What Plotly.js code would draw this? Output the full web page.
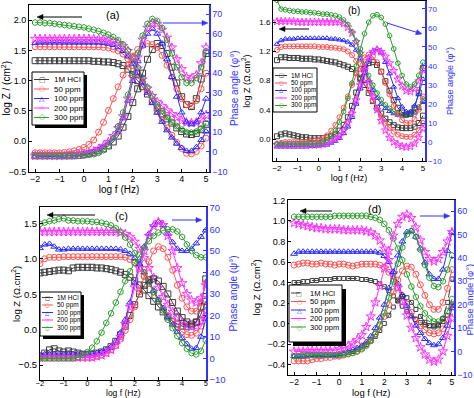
<!DOCTYPE html>
<html><head><meta charset="utf-8">
<script src="https://cdn.plot.ly/plotly-3.0.1.min.js"></script>
<style>html,body{margin:0;padding:0;background:#fff}#chart{width:474px;height:398px}</style>
</head><body><div id="chart"></div>
<script>
// ---------- data ----------
const logf = [-2.0,-1.8,-1.6,-1.4,-1.2,-1.0,-0.8,-0.6,-0.4,-0.2,0.0,0.2,0.4,0.6,0.8,1.0,1.2,1.4,1.6,1.8,2.0,2.2,2.4,2.6,2.8,3.0,3.2,3.4,3.6,3.8,4.0,4.2,4.4,4.6,4.8,5.0];
const series = ['1M HCl','50 ppm','100 ppm','200 ppm','300 ppm'];

// panel (a)
const logZ_a_HCl = [1.33,1.33,1.33,1.33,1.33,1.33,1.33,1.33,1.33,1.33,1.33,1.33, 1.32,1.32,1.31,1.31,1.30,1.28,1.25,1.19,1.10,1.00,0.90,0.78, 0.66,0.55,0.45,0.37,0.30,0.22,0.16,0.12,0.11,0.13,0.19,0.28];
const logZ_a_50 = [1.56,1.56,1.56,1.56,1.56,1.56,1.56,1.56,1.56,1.56,1.56,1.56, 1.56,1.56,1.55,1.54,1.52,1.49,1.44,1.36,1.25,1.12,0.98,0.82, 0.66,0.50,0.36,0.22,0.10,-0.02,-0.12,-0.20,-0.21,-0.17,-0.08,0.05];
const logZ_a_100 = [1.62,1.63,1.63,1.63,1.63,1.63,1.63,1.63,1.63,1.63,1.63,1.63, 1.63,1.63,1.62,1.61,1.59,1.55,1.49,1.40,1.28,1.13,0.97,0.80, 0.63,0.47,0.32,0.18,0.06,-0.04,-0.11,-0.16,-0.16,-0.10,0.02,0.16];
const logZ_a_200 = [1.69,1.69,1.69,1.69,1.69,1.69,1.69,1.69,1.69,1.69,1.69,1.69, 1.69,1.69,1.68,1.67,1.65,1.62,1.57,1.49,1.38,1.20,1.02,0.87, 0.75,0.65,0.58,0.51,0.45,0.39,0.34,0.31,0.30,0.31,0.35,0.43];
const logZ_a_300 = [1.96,1.96,1.95,1.95,1.94,1.93,1.92,1.91,1.90,1.89,1.88,1.86, 1.84,1.82,1.79,1.76,1.72,1.67,1.60,1.50,1.38,1.22,1.05,0.89, 0.74,0.61,0.50,0.40,0.32,0.25,0.19,0.15,0.14,0.16,0.21,0.30];
const phase_a_HCl = [-2,-2,-2,-2,-2,-2,-2,-2,-2,-1.8,-1.5,-1, -0.5,0.5,1.5,3,5,8,12.5,18,25,32,40,47, 52,55,54,50,43,35,28,24,23,27,37,50];
const phase_a_50 = [-0.5,-0.5,-0.5,-0.5,-0.5,-0.5,-0.3,0,0.5,1.2,2.2,3.8, 6,10,15,21,27,33,39,44,48.5,52,54,55, 54.5,53,49,44,38,32,27,24,23.5,26,32,40];
const phase_a_100 = [-2.5,-2.5,-2.5,-2.5,-2.5,-2.3,-2.2,-2,-1.8,-1.5,-1.2,-0.8, 0,1,2.5,4.5,7,11,17,26,36,46,54,60, 62.5,60,55,47,38,28,20,15,14,15,20,27];
const phase_a_200 = [-2,-2,-2,-2,-2,-2,-2,-1.8,-1.6,-1.3,-1,-0.5, 0.3,1.5,3,5,8,12,18,27,38,48,57,63, 65.5,65,62,58,53,47,42,38,37,39,45,53];
const phase_a_300 = [-2,-2,-2,-2,-2,-2,-2,-2,-2,-2,-1.8,-1.5, -1.2,-0.5,0.8,3,7,13,20,29,39,50,59,65, 67.5,66.5,63,57,50,43,38,35,35,37.5,43,51];

// panel (b)
const logZ_b_HCl = [1.08,1.12,1.12,1.11,1.11,1.11,1.10,1.10,1.10,1.09,1.09,1.08, 1.07,1.06,1.05,1.03,1.01,0.99,0.96,0.91,0.84,0.74,0.63,0.52, 0.43,0.35,0.28,0.23,0.19,0.16,0.15,0.15,0.15,0.17,0.22,0.32];
const logZ_b_50 = [1.22,1.26,1.27,1.27,1.27,1.27,1.27,1.27,1.27,1.27,1.26,1.26, 1.26,1.25,1.25,1.24,1.23,1.20,1.15,1.07,0.96,0.82,0.67,0.53, 0.41,0.31,0.22,0.15,0.10,0.06,0.04,0.03,0.03,0.06,0.12,0.22];
const logZ_b_100 = [1.30,1.35,1.37,1.37,1.37,1.38,1.38,1.38,1.38,1.38,1.38,1.38, 1.38,1.37,1.37,1.36,1.35,1.33,1.29,1.22,1.10,0.95,0.80,0.67, 0.56,0.48,0.42,0.38,0.35,0.33,0.32,0.32,0.33,0.36,0.42,0.52];
const logZ_b_200 = [1.61,1.61,1.61,1.61,1.61,1.60,1.60,1.60,1.60,1.60,1.60,1.60, 1.60,1.60,1.60,1.60,1.58,1.53,1.45,1.33,1.17,0.98,0.78,0.58, 0.40,0.25,0.12,0.02,-0.04,-0.08,-0.10,-0.11,-0.10,-0.06,0.02,0.14];
const logZ_b_300 = [1.90,1.78,1.77,1.76,1.75,1.75,1.74,1.74,1.73,1.73,1.72,1.71, 1.71,1.70,1.69,1.67,1.63,1.57,1.47,1.34,1.18,1.02,0.87,0.74, 0.63,0.54,0.47,0.42,0.38,0.35,0.33,0.33,0.34,0.37,0.44,0.55];
const phase_b_HCl = [3,4,4.5,4,3.5,3,2.5,2.5,2,2,2,2, 2.5,3,4,6,9,13,19,26,33,38.5,41.5,42, 40.5,37,32,27,22,18,15.5,14.5,15,18,26,39];
const phase_b_50 = [-1,-0.5,0,0,0,0,0,0,0.2,0.5,1,2, 3.5,6,9,13,18,24,30,36,41,44.5,46,45, 42,37,31,25,19,14.5,11.5,10,10,12,17,24];
const phase_b_100 = [-2.5,-2.5,-2.5,-2.5,-2.5,-2.5,-2.5,-2.5,-2.3,-2.2,-2,-1.8, -1.5,-0.5,0.5,2,4.5,8,13,20,28,36,43,47.5, 49,47,42,36,29,23,18.5,16,16,19,25,33];
const phase_b_200 = [-1.5,-1.5,-1.5,-1.5,-1.5,-1.5,-1.5,-1.5,-1.5,-1.5,-1.5,-1, -0.5,0.5,1.5,3,6,10,15,22,30,38,44,47.5, 48.5,47.5,45,41.5,37.5,33,29.5,27,26.5,28,32,38];
const phase_b_300 = [-1,-1,-1,-1,-1,-1,-1,-1,-1,-1,-1,0, 1,3,6,10.5,16,23,31,40,49,57,63,66.5, 67,65.5,62,56,49,41.5,35,30.5,29,30.5,35,42];

// panel (c)
const logZ_c_HCl = [0.80,0.81,0.82,0.83,0.84,0.84,0.83,0.87,0.88,0.88,0.88,0.88, 0.87,0.87,0.86,0.85,0.83,0.81,0.78,0.74,0.69,0.63,0.56,0.48, 0.40,0.32,0.25,0.18,0.12,0.08,0.05,0.04,0.05,0.10,0.22,0.40];
const logZ_c_50 = [0.93,1.00,1.02,1.02,1.02,1.03,1.03,1.03,1.03,1.03,1.03,1.03, 1.03,1.03,1.03,1.03,1.03,1.03,1.02,0.99,0.94,0.86,0.76,0.65, 0.53,0.41,0.30,0.20,0.11,0.03,-0.03,-0.07,-0.08,-0.05,0.05,0.20];
const logZ_c_100 = [1.15,1.20,1.21,1.17,1.13,1.13,1.14,1.14,1.14,1.14,1.14,1.14, 1.14,1.14,1.14,1.14,1.14,1.13,1.11,1.07,1.01,0.92,0.81,0.68, 0.55,0.42,0.30,0.18,0.07,-0.03,-0.12,-0.20,-0.27,-0.26,-0.10,0.15];
const logZ_c_200 = [1.38,1.38,1.38,1.38,1.38,1.38,1.38,1.38,1.38,1.38,1.38,1.38, 1.38,1.38,1.38,1.38,1.38,1.37,1.35,1.31,1.24,1.14,1.01,0.87, 0.73,0.59,0.46,0.35,0.25,0.17,0.10,0.06,0.04,0.05,0.12,0.25];
const logZ_c_300 = [1.49,1.51,1.53,1.54,1.56,1.57,1.54,1.54,1.53,1.53,1.53,1.52, 1.52,1.51,1.49,1.47,1.43,1.38,1.30,1.20,1.08,0.95,0.81,0.67, 0.53,0.40,0.27,0.14,0.02,-0.09,-0.19,-0.27,-0.33,-0.35,-0.30,-0.15];
const phase_c_HCl = [1,2.5,4,4.5,3.5,3,3.5,3,2.5,2,2,2, 2.5,3,4,5.5,8,11,15,20,25,30,34,36.5, 37,36,33.5,30,26,22,19,17,16,17,24,37];
const phase_c_50 = [0.5,0.5,0.5,0.5,0.5,0.5,0.5,0.5,0.5,0.5,0.5,0.5, 1,1.5,2.5,4,6,9,13,18,24,31,38,45, 50,52,51,47,41,34,28,24,22,22,26,35];
const phase_c_100 = [1.5,2,2,2,2,2,2,2,2,2,2,2, 2.5,3,4,5.5,8,12,18,26,35,44,52,58, 62,63.5,62,58,54,51,50,50,51,53.5,56.5,59.5];
const phase_c_200 = [0.5,0.5,0.5,0.5,0.5,0.5,0.5,0.5,0.5,0.5,0.5,0.5, 1,1.5,2.5,4,6.5,10,16,24,33,42,50,57, 61.5,63.5,62,57,50,42,35,30,27,26,28,34];
const phase_c_300 = [0,0,0,0,0,0,0,0,0.5,1.5,3,5, 8,12,16.5,21,26,31,36,40.5,44.5,48,51.5,54.5, 57,58.5,59.5,60,60,59,56.5,53,50,48,47,47];

// panel (d)
const logZ_d_HCl = [0.40,0.40,0.41,0.41,0.42,0.42,0.43,0.43,0.43,0.44,0.44,0.44, 0.44,0.44,0.44,0.43,0.43,0.42,0.41,0.39,0.36,0.32,0.27,0.22, 0.17,0.12,0.08,0.04,0.01,-0.01,-0.02,-0.02,-0.01,0.02,0.08,0.18];
const logZ_d_50 = [0.57,0.58,0.59,0.59,0.58,0.58,0.59,0.58,0.58,0.57,0.58,0.58, 0.57,0.56,0.57,0.58,0.58,0.58,0.58,0.57,0.55,0.50,0.43,0.35, 0.27,0.19,0.11,0.04,-0.02,-0.06,-0.09,-0.10,-0.09,-0.05,0.04,0.18];
const logZ_d_100 = [0.68,0.70,0.70,0.70,0.70,0.70,0.70,0.70,0.70,0.70,0.70,0.70, 0.70,0.70,0.70,0.70,0.70,0.70,0.70,0.69,0.66,0.60,0.50,0.39, 0.28,0.17,0.07,-0.02,-0.09,-0.15,-0.19,-0.21,-0.20,-0.14,-0.02,0.15];
const logZ_d_200 = [0.98,0.97,0.96,0.95,0.94,0.93,0.93,0.92,0.92,0.92,0.92,0.91, 0.91,0.91,0.91,0.91,0.90,0.89,0.86,0.81,0.73,0.62,0.49,0.35, 0.21,0.08,-0.04,-0.14,-0.23,-0.30,-0.35,-0.37,-0.35,-0.27,-0.12,0.05];
const logZ_d_300 = [1.04,1.04,1.04,1.04,1.04,1.04,1.04,1.04,1.04,1.05,1.05,1.05, 1.05,1.05,1.05,1.05,1.05,1.04,1.03,1.01,0.97,0.91,0.83,0.73, 0.62,0.48,0.36,0.26,0.17,0.10,0.05,0.02,0.02,0.05,0.12,0.24];
const phase_d_HCl = [-2,-2,-2,-1.5,-1.5,-1.5,-1.5,-1.5,-1.5,-1.5,-1.5,-1, -0.5,0,1,2,3,4.5,6.5,9,12,15.5,19,22, 23.5,23,21,18,15,12.5,11,10.5,11,14,21,31];
const phase_d_50 = [-4,-4,-4,-4,-3.5,-3,-3,-2.5,-2.5,-2,-2,-1.5, -1,-0.5,0.5,1.5,3,5,7.5,11,15,20,25.5,30.5, 34.5,36.5,36,33,28.5,24,20,18,18,21,27,35];
const phase_d_100 = [-2,-2,-2,-1.5,-1.5,-1.5,-1.5,-1.5,-1.5,-1.5,-1,-0.5, 0,0.8,1.5,2.5,4,6.5,10,14.5,20,27,34,41, 47,51,51.5,49,44,38,33,31,31,35,43,51];
const phase_d_200 = [0,0,0,0.3,0.3,0.3,0.3,0.3,0.3,0.5,1,1.5, 2.5,3.5,5,7,10.5,15,21,28,35.5,43,49.5,54.5, 57.5,58.5,57,53,47.5,42.5,39.5,38.5,39.5,42.5,47,51];
const phase_d_300 = [-2,-2,-1.5,-1.5,-1.5,-1.5,-1.5,-1.5,-1.5,-1.5,-1.5,-1.2, -1,-0.5,0,1,2.5,4.5,7.5,11.5,16.5,23,30,37.5, 44.5,50,51.5,49,43.5,37,31.5,28,27.5,30,35,41];

const panelLabels = ['(a)','(b)','(c)','(d)'];
const xTitle = 'log f (Hz)';
const leftTitles = ['log Z / (cm<sup>2</sup>)','log Z (Ω.cm<sup>2</sup>)','log Z (Ω.cm<sup>2</sup>)','log Z (Ω.cm<sup>2</sup>)'];
const rightTitles = ['Phase angle (φ°)','Phase angle (φ°)','Phase angle (ψ°)','Phase angle (φ°)'];

// ---------- styles ----------
const colors = ['#3c3c3c','#ff5252','#2b2bff','#ff33ff','#2f9e2f'];
const symbols = ['square-open','circle-open','triangle-up-open','star-open','hexagon-open'];
const glyphs = ['□','○','△','☆','○'];
const BLUE = '#3333ff';
const W = 474, H = 398;
const px = v => v / W, py = v => 1 - v / H;

// xtAnn / ltAnn / rtAnn: pixel positions of titles drawn as annotations (null = normal axis title)
const panels = [
  {z:[logZ_a_HCl,logZ_a_50,logZ_a_100,logZ_a_200,logZ_a_300], p:[phase_a_HCl,phase_a_50,phase_a_100,phase_a_200,phase_a_300],
   box:[29,209,5,171.5], xr:[-2.25,5.12], yl:[-0.5,2.25], ydt:0.5, yr:[-10,74.6], tf:9, xtf:9, xts:-1, ts:10, rts:10, ms:6, lst:4, rst:4,
   xtAnn:null, ltAnn:null, rtAnn:null,
   label:[112,15,11], arrows:[[37,17,82,17,'#000'],[208,23,163,23,BLUE]],
   leg:{box:[32,72,84,125], sh:3, rows:[79.5,89,98.5,108,117.5], l0:34, l1:49, g:41.5, t:52, fs:8}},
  {z:[logZ_b_HCl,logZ_b_50,logZ_b_100,logZ_b_200,logZ_b_300], p:[phase_b_HCl,phase_b_50,phase_b_100,phase_b_200,phase_b_300],
   box:[273,425,1,161], xr:[-2.19,5.10], yl:[-0.30,1.89], ydt:0.4, yr:[-10,74.2], tf:8, xtf:8, xts:-1, ts:9, rts:9, ms:5, lst:7, rst:5,
   xtAnn:null, ltAnn:null, rtAnn:null,
   label:[354,10,10], arrows:[[279,29,309,29,'#000'],[422,34,387,23,BLUE]],
   leg:{box:[273,68,317,112], sh:0, rows:[75.5,83,90.5,98,105.5], l0:275, l1:287, g:281, t:289, fs:6.5}},
  {z:[logZ_c_HCl,logZ_c_50,logZ_c_100,logZ_c_200,logZ_c_300], p:[phase_c_HCl,phase_c_50,phase_c_100,phase_c_200,phase_c_300],
   box:[40,206,207,380], xr:[-2.0,5.01], yl:[-0.71,1.73], ydt:0.5, yr:[-10,70.4], tf:9.5, xtf:7.5, xts:-4, ts:8.5, rts:10, ms:6, lst:2, rst:5,
   xtAnn:[123,393], ltAnn:[16,294], rtAnn:null,
   label:[121,216,11], arrows:[[47,215,95,215,'#000'],[202,220,172,220,BLUE]],
   leg:{box:[40,292,81,336], sh:3, rows:[297.5,305,312.5,320,327.5], l0:42, l1:53, g:47.5, t:55, fs:6.5}},
  {z:[logZ_d_HCl,logZ_d_50,logZ_d_100,logZ_d_200,logZ_d_300], p:[phase_d_HCl,phase_d_50,phase_d_100,phase_d_200,phase_d_300],
   box:[288,454,200,375], xr:[-2.27,5.09], yl:[-0.50,1.204], ydt:0.2, yr:[-10,64.7], tf:9, xtf:8.5, xts:-1, ts:9.5, rts:9.5, ms:6, lst:5, rst:0,
   xtAnn:[371,392.5], ltAnn:null, rtAnn:[468.5,300],
   label:[374,209,11], arrows:[[300,211,332,211,'#000'],[450,216,420,216,BLUE]],
   leg:{box:[289,285,342,342], sh:4, rows:[293,301.5,310,318.5,327], l0:291, l1:306, g:299, t:308, fs:7.5}}
];

const traces = [];
const layout = {
  width: W, height: H, margin:{l:0,r:0,t:0,b:0}, autosize:false,
  paper_bgcolor:'#fff', plot_bgcolor:'#fff', showlegend:false,
  font:{family:'Arial, "Liberation Sans", sans-serif', color:'#000'},
  shapes:[], annotations:[]
};

function arrowShapes(hx, hy, tx, ty, col) {
  const dx = hx - tx, dy = hy - ty, len = Math.hypot(dx, dy);
  const ux = dx / len, uy = dy / len, hl = 6, hw = 2.6;
  const bx = hx - ux * hl, by = hy - uy * hl;
  const p1x = bx - uy * hw, p1y = by + ux * hw, p2x = bx + uy * hw, p2y = by - ux * hw;
  return [
    {type:'line', xref:'paper', yref:'paper', x0:px(tx), y0:py(ty), x1:px(bx), y1:py(by), line:{color:col, width:1}},
    {type:'path', xref:'paper', yref:'paper',
     path:`M ${px(hx)} ${py(hy)} L ${px(p1x)} ${py(p1y)} L ${px(p2x)} ${py(p2y)} Z`, fillcolor:col, line:{color:col, width:0.5}}
  ];
}

panels.forEach((P,k) => {
  const xId = k===0 ? 'x' : 'x'+(k+1);
  const xKey = k===0 ? 'xaxis' : 'xaxis'+(k+1);
  const nL = 2*k+1, nR = 2*k+2;
  const yLId = nL===1 ? 'y' : 'y'+nL, yLKey = nL===1 ? 'yaxis' : 'yaxis'+nL;
  const yRId = 'y'+nR, yRKey = 'yaxis'+nR;
  const [x0,x1,yt,yb] = P.box;

  layout[xKey] = {domain:[px(x0),px(x1)], range:P.xr, anchor:yLId, showline:true, mirror:true, linecolor:'#000', linewidth:1,
    ticks:'inside', ticklen:3, tickwidth:1, tickcolor:'#000', dtick:1, tick0:0, showgrid:false, zeroline:false,
    tickfont:{size:P.xtf}, ticklabelstandoff:P.xts,
    title:{text:P.xtAnn ? '' : xTitle, font:{size:P.ts}, standoff:0}, automargin:false, fixedrange:true};
  if (k===3) layout[xKey].minor = {ticks:'inside', ticklen:1.5, dtick:0.5, tickcolor:'#000'};
  layout[yLKey] = {domain:[py(yb),py(yt)], range:P.yl, anchor:xId, showline:true, linecolor:'#000', linewidth:1,
    ticks:'inside', ticklen:3, tickcolor:'#000', dtick:P.ydt, tick0:0, tickformat:'.1f', showgrid:false, zeroline:false,
    tickfont:{size:P.tf}, title:{text:P.ltAnn ? '' : leftTitles[k], font:{size:P.ts}, standoff:P.lst}, automargin:false, fixedrange:true};
  layout[yRKey] = {overlaying:yLId, side:'right', anchor:xId, range:P.yr, showline:true, linecolor:BLUE, linewidth:1.5,
    ticks:'inside', ticklen:3, tickcolor:BLUE, dtick:10, tick0:0, showgrid:false, zeroline:false,
    tickfont:{size:P.tf, color:BLUE},
    title:{text:P.rtAnn ? '' : rightTitles[k], font:{size:P.rts, color:BLUE}, standoff:P.rst}, automargin:false, fixedrange:true};

  if (P.xtAnn) layout.annotations.push({xref:'paper', yref:'paper', x:px(P.xtAnn[0]), y:py(P.xtAnn[1]), text:xTitle,
    showarrow:false, xanchor:'center', yanchor:'middle', borderpad:0, font:{size:P.ts}});
  if (P.ltAnn) layout.annotations.push({xref:'paper', yref:'paper', x:px(P.ltAnn[0]), y:py(P.ltAnn[1]), text:leftTitles[k],
    showarrow:false, textangle:-90, xanchor:'center', yanchor:'middle', font:{size:P.ts + 1}});
  if (P.rtAnn) layout.annotations.push({xref:'paper', yref:'paper', x:px(P.rtAnn[0]), y:py(P.rtAnn[1]), text:rightTitles[k],
    showarrow:false, textangle:-90, xanchor:'center', yanchor:'middle', font:{size:P.rts, color:BLUE}});

  for (let s=0; s<5; s++) {
    const dash = (k===3 && s===0) ? 'dash' : 'solid';
    const msz = (k===3 && s===0) ? 4 : (s===3 ? P.ms+1 : P.ms);
    const common = {x:logf, xaxis:xId, type:'scatter', mode:'lines+markers', name:series[s], showlegend:false, hoverinfo:'skip',
      line:{color:colors[s], width:1, dash:dash},
      marker:{symbol:symbols[s], size:msz, color:colors[s], line:{width:1, color:colors[s]}}};
    traces.push(Object.assign({}, common, {y:P.z[s], yaxis:yLId}));
    traces.push(Object.assign({}, common, {y:P.p[s], yaxis:yRId}));
  }

  // panel label
  layout.annotations.push({xref:'paper', yref:'paper', x:px(P.label[0]), y:py(P.label[1]), text:panelLabels[k],
    showarrow:false, xanchor:'center', yanchor:'middle', font:{size:P.label[2]}});
  // axis-direction arrows
  P.arrows.forEach(a => { arrowShapes(a[0], a[1], a[2], a[3], a[4]).forEach(sh => layout.shapes.push(sh)); });
  // legend (manual, compact)
  const L = P.leg;
  const [bx0,by0,bx1,by1] = L.box;
  const gap = L.rows[1] - L.rows[0];
  const gfs = Math.min(L.fs + 1, gap * 0.72);
  if (L.sh) layout.shapes.push({type:'rect', xref:'paper', yref:'paper', x0:px(bx0+L.sh), x1:px(bx1+L.sh), y0:py(by1+L.sh), y1:py(by0+L.sh),
    fillcolor:'#000', line:{width:0}});
  layout.shapes.push({type:'rect', xref:'paper', yref:'paper', x0:px(bx0), x1:px(bx1), y0:py(by1), y1:py(by0),
    fillcolor:'#fff', line:{color:'#000', width:1}});
  for (let s=0; s<5; s++) {
    const ry = L.rows[s];
    layout.shapes.push({type:'line', xref:'paper', yref:'paper', x0:px(L.l0), x1:px(L.l1), y0:py(ry), y1:py(ry),
      line:{color:colors[s], width:1, dash:(k===3 && s===0) ? 'dash' : 'solid'}});
    layout.annotations.push({xref:'paper', yref:'paper', x:px(L.g), y:py(ry), text:glyphs[s], showarrow:false,
      xanchor:'center', yanchor:'middle', font:{size:gfs, color:colors[s], family:'DejaVu Sans'}});
    layout.annotations.push({xref:'paper', yref:'paper', x:px(L.t), y:py(ry), text:series[s], showarrow:false,
      xanchor:'left', yanchor:'middle', font:{size:L.fs, color:'#000'}});
  }
});

Plotly.newPlot('chart', traces, layout, {staticPlot:true, displayModeBar:false});
</script>
</body></html>
